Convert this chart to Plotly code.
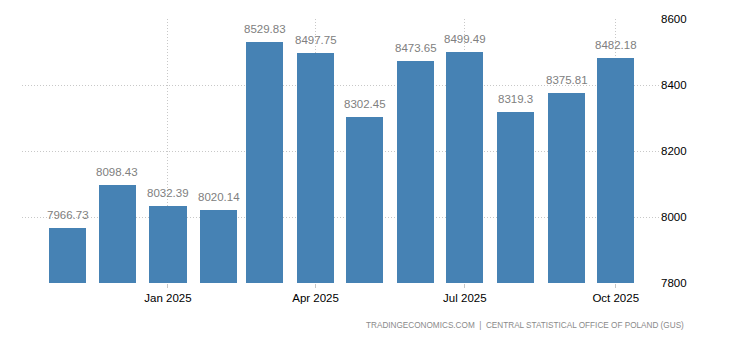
import plotly.graph_objects as go

# Monthly values (month start dates)
months = ["2024-11-01", "2024-12-01", "2025-01-01", "2025-02-01", "2025-03-01",
          "2025-04-01", "2025-05-01", "2025-06-01", "2025-07-01", "2025-08-01",
          "2025-09-01", "2025-10-01"]
values = [7966.73, 8098.43, 8032.39, 8020.14, 8529.83, 8497.75,
          8302.45, 8473.65, 8499.49, 8319.3, 8375.81, 8482.18]
value_labels = ["7966.73", "8098.43", "8032.39", "8020.14", "8529.83", "8497.75",
                "8302.45", "8473.65", "8499.49", "8319.3", "8375.81", "8482.18"]
x_tick_vals = ["2025-01-01", "2025-04-01", "2025-07-01", "2025-10-01"]
x_tick_text = ["Jan 2025", "Apr 2025", "Jul 2025", "Oct 2025"]
y_ticks = [7800, 8000, 8200, 8400, 8600]

FONT = "Liberation Sans, Arial, sans-serif"
DAY_MS = 86400000

fig = go.Figure()
fig.add_trace(go.Bar(
    x=months, y=values,
    width=[22.6 * DAY_MS] * len(months),
    marker=dict(color="#4682B4", line=dict(width=0)),
    hoverinfo="x+y",
))

for m, v, t in zip(months, values, value_labels):
    fig.add_annotation(x=m, y=v, text=t, showarrow=False, yanchor="bottom",
                       yshift=5, font=dict(family=FONT, size=11.5, color="#808080"))

fig.add_annotation(
    xref="paper", yref="paper", x=1.041, y=-0.16, xanchor="right", yanchor="middle",
    text="TRADINGECONOMICS.COM  |  CENTRAL STATISTICAL OFFICE OF POLAND (GUS)",
    showarrow=False, font=dict(family=FONT, size=8.2, color="#8a8a8a"))

grid = dict(showgrid=True, gridcolor="#c8c8c8", griddash="1px,2px", gridwidth=1)

fig.update_layout(
    width=730, height=340,
    margin=dict(l=22, r=70, t=19, b=57),
    paper_bgcolor="white", plot_bgcolor="white",
    showlegend=False, bargap=0,
    font=dict(family=FONT, size=11, color="black"),
    xaxis=dict(
        type="date", range=["2024-10-04", "2025-10-28"],
        tickvals=x_tick_vals, ticktext=x_tick_text,
        ticks="outside", ticklen=4, tickcolor="#c8c8c8",
        showline=False, zeroline=False,
        tickfont=dict(family=FONT, size=11.5, color="black"),
        **grid,
    ),
    yaxis=dict(
        side="right", range=[7800, 8600], tickvals=y_ticks,
        showline=False, zeroline=False, ticks="",
        tickfont=dict(family=FONT, size=11.5, color="black"),
        **grid,
    ),
)

fig.write_html("out.html")
